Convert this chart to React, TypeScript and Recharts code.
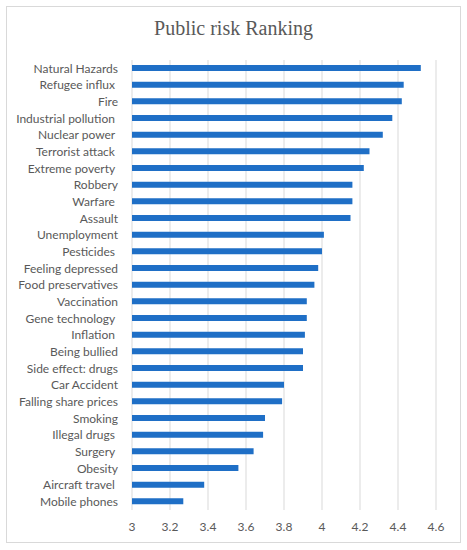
import React from "react";
import { BarChart, Bar, XAxis, YAxis, CartesianGrid } from "recharts";

// top to bottom, as in the picture (trailing spaces are in the source labels)
const risks: string[] = [
  "Natural Hazards",
  "Refugee influx ",
  "Fire",
  "Industrial pollution ",
  "Nuclear power ",
  "Terrorist attack ",
  "Extreme poverty ",
  "Robbery",
  "Warfare ",
  "Assault",
  "Unemployment",
  "Pesticides ",
  "Feeling depressed",
  "Food preservatives",
  "Vaccination",
  "Gene technology ",
  "Inflation ",
  "Being bullied",
  "Side effect: drugs",
  "Car Accident",
  "Falling share prices",
  "Smoking",
  "Illegal drugs ",
  "Surgery ",
  "Obesity",
  "Aircraft travel ",
  "Mobile phones",
];

const scores: number[] = [
  4.52, 4.43, 4.42, 4.37, 4.32, 4.25, 4.22, 4.16, 4.16, 4.15, 4.01, 4.0, 3.98,
  3.96, 3.92, 3.92, 3.91, 3.9, 3.9, 3.8, 3.79, 3.7, 3.69, 3.64, 3.56, 3.38, 3.27,
];

const xTicks: number[] = [3, 3.2, 3.4, 3.6, 3.8, 4, 4.2, 4.4, 4.6];

const data = risks.map((name, i) => ({ name, score: scores[i] }));

const FONT = "Lato, 'Open Sans', sans-serif";
const GREY = "#595959";

const RiskTick = (props: any) => {
  const { x, y, payload } = props;
  return (
    <text
      x={x - 6}
      y={y}
      dy="0.35em"
      textAnchor="end"
      fill={GREY}
      fontSize={12}
      fontFamily={FONT}
      style={{ whiteSpace: "pre" }}
    >
      {payload.value}
    </text>
  );
};

export default function App() {
  return (
    <div style={{ position: "absolute", left: 0, top: 0, width: 467, height: 550, background: "#fff" }}>
      <div
        style={{
          position: "absolute",
          left: 6,
          top: 6,
          width: 453,
          height: 535,
          border: "1px solid #d9d9d9",
        }}
      />
      <div
        style={{
          position: "absolute",
          left: 0,
          top: 17,
          width: 467,
          textAlign: "center",
          fontFamily: "'Liberation Serif', 'DejaVu Serif', serif",
          fontSize: 20,
          color: GREY,
        }}
      >
        Public risk Ranking
      </div>
      <div style={{ position: "absolute", left: 0, top: 0 }}>
        <BarChart
          width={467}
          height={550}
          data={data}
          layout="vertical"
          margin={{ top: 60, right: 31, bottom: 10, left: 0 }}
          barSize={6}
        >
          <CartesianGrid horizontal={false} stroke="#d9d9d9" />
          <XAxis
            type="number"
            domain={[3, 4.6]}
            ticks={xTicks}
            axisLine={false}
            tickLine={false}
            height={30}
            tick={{ fill: GREY, fontSize: 12, fontFamily: FONT }}
            tickMargin={6}
            interval={0}
          />
          <YAxis
            type="category"
            dataKey="name"
            width={132}
            axisLine={false}
            tickLine={false}
            interval={0}
            tick={<RiskTick />}
          />
          <Bar dataKey="score" fill="#1f6fc6" isAnimationActive={false} />
        </BarChart>
      </div>
    </div>
  );
}
